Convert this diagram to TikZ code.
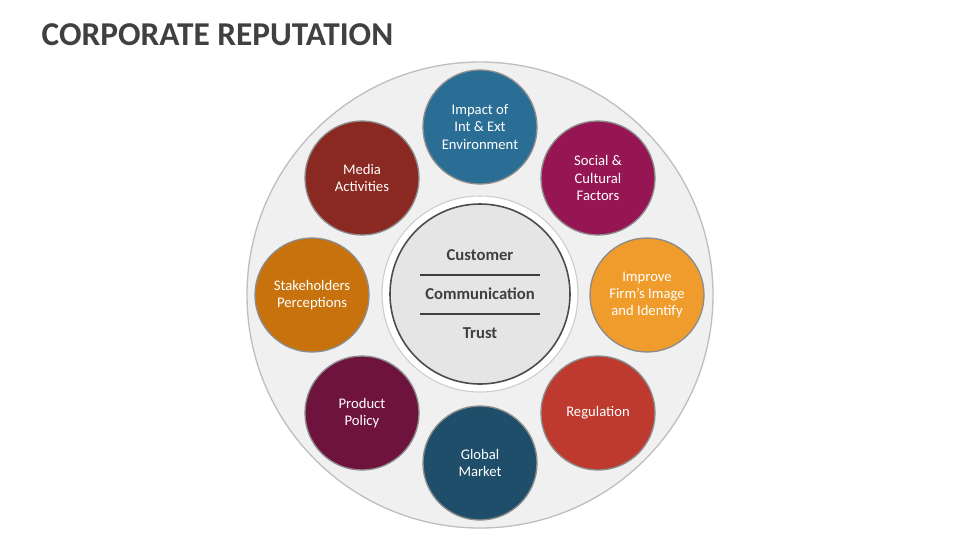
\documentclass[tikz,border=0pt]{standalone}
\usepackage{fontspec}
\setmainfont{Carlito}
\begin{document}
\begin{tikzpicture}[x=0.75pt,y=-0.75pt,
  sm/.style={circle,minimum size=114*0.75pt,inner sep=0pt,draw=black!45,line width=1pt,text=white,font=\fontsize{11}{13}\selectfont,align=center},
  ctext/.style={text=black!75,font=\bfseries\fontsize{12.5}{14}\selectfont}]
\useasboundingbox (0,0) rectangle (960,540);
\node[anchor=west,text=black!75,font=\bfseries\fontsize{25}{28}\selectfont] (title) at (37,35) {CORPORATE REPUTATION};
\node[circle,minimum size=466*0.75pt,fill=black!6,draw=black!25,line width=1pt] (big) at (480,295) {};
\node[circle,minimum size=196*0.75pt,fill=white,draw=black!20,line width=0.8pt] (ring) at (480,294) {};
\node[circle,minimum size=180*0.75pt,fill=black!10,draw=black!70,line width=1.2pt] (core) at (480,294) {};
\node[ctext] (c1) at (480,255) {Customer};
\node[ctext] (c2) at (480,294) {Communication};
\node[ctext] (c3) at (480,333) {Trust};
\coordinate (l1a) at (420,275); \coordinate (l1b) at (540,275);
\coordinate (l2a) at (420,314); \coordinate (l2b) at (540,314);
\draw[black!75,line width=1pt] (l1a) -- (l1b) (l2a) -- (l2b);
\node[sm,fill={rgb,255:red,42;green,110;blue,150}] (n1) at (480,127) {Impact of\\Int \& Ext\\Environment};
\node[sm,fill={rgb,255:red,150;green,22;blue,84}] (n2) at (598,178) {Social \&\\Cultural\\Factors};
\node[sm,fill={rgb,255:red,240;green,156;blue,44}] (n3) at (647,295) {Improve\\Firm’s Image\\and Identify};
\node[sm,fill={rgb,255:red,190;green,58;blue,46}] (n4) at (598,413) {Regulation};
\node[sm,fill={rgb,255:red,30;green,78;blue,106}] (n5) at (480,463) {Global\\Market};
\node[sm,fill={rgb,255:red,110;green,18;blue,62}] (n6) at (362,413) {Product\\Policy};
\node[sm,fill={rgb,255:red,200;green,114;blue,14}] (n7) at (312,295) {Stakeholders\\Perceptions};
\node[sm,fill={rgb,255:red,138;green,40;blue,34}] (n8) at (362,178) {Media\\Activities};
\end{tikzpicture}
\end{document}
